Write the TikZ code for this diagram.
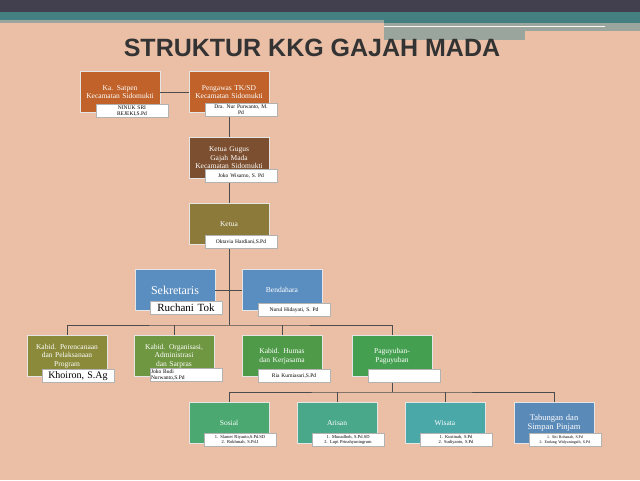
\documentclass[tikz,border=0pt]{standalone}
\usepackage{fontspec}
\setmainfont{Liberation Serif}
\newfontfamily\titlefont{Liberation Sans}
\hyphenpenalty=10000
\exhyphenpenalty=10000
\definecolor{peach}{HTML}{EBBFA6}
\definecolor{cdark}{HTML}{42404F}
\definecolor{cteal}{HTML}{447F82}
\definecolor{cgrey}{HTML}{9AA59E}
\definecolor{ctitle}{HTML}{333333}
\definecolor{corange}{HTML}{C0622A}
\definecolor{cbrown}{HTML}{7B4F2F}
\definecolor{colive}{HTML}{8B7A3A}
\definecolor{cblue}{HTML}{5B8EC0}
\definecolor{colive2}{HTML}{8B8A3A}
\definecolor{cog}{HTML}{6F9640}
\definecolor{cg1}{HTML}{4E9A48}
\definecolor{cg2}{HTML}{44A050}
\definecolor{cs1}{HTML}{4AA870}
\definecolor{cs2}{HTML}{4AA88A}
\definecolor{cs3}{HTML}{4AA8A8}
\definecolor{cs4}{HTML}{5A8AB8}
\begin{document}
\begin{tikzpicture}[x=1pt,y=-1pt,
  orgbox/.style={draw=white!80!gray,line width=0.8pt,minimum width=80pt,minimum height=41pt,text width=74pt,align=center,font=\fontsize{7.5}{8.5}\selectfont,text=white,inner sep=2pt},
  namebox/.style={draw=gray!60,fill=white,line width=0.5pt,minimum width=72pt,minimum height=13pt,text width=70pt,align=center,font=\fontsize{5.5}{6}\selectfont,inner sep=1pt},
  conn/.style={draw=gray!60!black,line width=0.7pt}]
\fill[peach] (0,0) rectangle (640,480);
\useasboundingbox (0,0) rectangle (640,480);
\fill[cdark] (0,0) rectangle (640,12);
\fill[cteal] (0,12) rectangle (640,20);
\fill[cgrey] (0,20) rectangle (384,23);
\fill[cgrey] (384,20) rectangle (640,31);
\fill[cteal] (384,20) rectangle (640,23);
\fill[peach] (525,31) rectangle (640,38);
\fill[cgrey] (384,31) rectangle (525,40);
\draw[white!85!peach,line width=1pt] (384,26) -- (605,26);
\node[font=\titlefont\bfseries\fontsize{25}{27}\selectfont,text=ctitle] (title) at (312,48) {STRUKTUR KKG GAJAH MADA};
% boxes
\node[orgbox,fill=corange] (satpen) at (120,92) {Ka. Satpen Kecamatan Sidomukti\\[5pt]};
\node[orgbox,fill=corange] (pengawas) at (229,92) {Pengawas TK/SD Kecamatan Sidomukti\\[5pt]};
\node[orgbox,fill=cbrown] (gugus) at (229,158) {Ketua Gugus Gajah Mada Kecamatan Sidomukti\\[4pt]};
\node[orgbox,fill=colive] (ketua) at (229,224) {Ketua\\[6pt]};
\node[orgbox,fill=cblue,font=\fontsize{12}{13}\selectfont] (sekr) at (175,290) {Sekretaris\\[8pt]};
\node[orgbox,fill=cblue] (bend) at (282,290) {Bendahara\\[8pt]};
\node[orgbox,fill=colive2] (k1) at (67,356) {Kabid. Perencanaan dan Pelaksanaan Program\\[5pt]};
\node[orgbox,fill=cog] (k2) at (174,356) {Kabid. Organisasi, Administrasi dan Sarpras\\[3pt]};
\node[orgbox,fill=cg1] (k3) at (282,356) {Kabid. Humas dan Kerjasama\\[5pt]};
\node[orgbox,fill=cg2] (k4) at (392,356) {Paguyuban-\\Paguyuban\\[5pt]};
\node[orgbox,fill=cs1] (b1) at (229,423) {Sosial\\[5pt]};
\node[orgbox,fill=cs2] (b2) at (337,423) {Arisan\\[5pt]};
\node[orgbox,fill=cs3] (b3) at (445,423) {Wisata\\[5pt]};
\node[orgbox,fill=cs4,font=\fontsize{8.5}{9.5}\selectfont] (b4) at (554,423) {Tabungan dan Simpan Pinjam\\[4pt]};
% connectors
\coordinate (bar) at (229,325);
\coordinate (bar2) at (392,392);
\draw[conn] (satpen) -- (pengawas);
\draw[conn] (pengawas) -- (gugus);
\draw[conn] (gugus) -- (ketua);
\draw[conn] (ketua) -- (bar);
\draw[conn] (sekr.east) -- (bend.west);
\draw[conn] (k1.north) |- (bar) -| (k4.north);
\draw[conn] (k2.north) -- (k2.north |- bar);
\draw[conn] (k3.north) -- (k3.north |- bar);
\draw[conn] (k4) -- (bar2);
\draw[conn] (b1.north) |- (bar2) -| (b4.north);
\draw[conn] (b2.north) -- (b2.north |- bar2);
\draw[conn] (b3.north) -- (b3.north |- bar2);
% name labels
\node[namebox] (n1) at (132,111) {NINUK SRI\\REJEKI,S.Pd};
\node[namebox] (n2) at (241,110) {Dra. Nur Purwanto, M.\\Pd};
\node[namebox] (n3) at (241,176) {Joko Wisarno, S. Pd};
\node[namebox] (n4) at (241,242) {Oktavia Hardiani,S.Pd};
\node[namebox,font=\fontsize{11}{12}\selectfont] (n5) at (186,308) {Ruchani Tok};
\node[namebox] (n6) at (294,310) {Nurul Hidayati, S. Pd};
\node[namebox,font=\fontsize{10}{11}\selectfont] (n7) at (78,376) {Khoiron, S.Ag};
\node[namebox,align=left] (n8) at (186,375) {Joko Budi\\Nurwanto,S.Pd};
\node[namebox] (n9) at (294,376) {Ria Kurniasari,S.Pd};
\node[namebox] (n10) at (404,376) {};
\node[namebox,font=\fontsize{4.5}{5}\selectfont] (n11) at (240,440) {1. Slamet Riyanto,S.Pd.SD\\2. Rokhmah, S.Pd.I};
\node[namebox,font=\fontsize{4.5}{5}\selectfont] (n12) at (348,440) {1. Munadhoh, S.Pd.SD\\2. Lupi Prinahyuningrum};
\node[namebox,font=\fontsize{4.5}{5}\selectfont] (n13) at (456,440) {1. Kustinah, S.Pd\\2. Sudiyanto, S.Pd};
\node[namebox,font=\fontsize{4}{4.5}\selectfont] (n14) at (565,440) {1. Siti Rohanah, S.Pd\\2. Endang Widyaningsih, S.Pd};
\end{tikzpicture}
\end{document}
